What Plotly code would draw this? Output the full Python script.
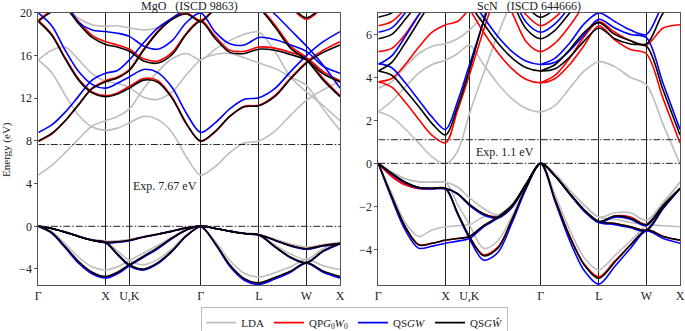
import plotly.graph_objects as go

N = None
# k-path (2pi/a units): G-X-U|K-G-L-W-X
kpath = [0, 0.2, 0.4, 0.6, 0.8, 1.0, 1.177, 1.354, 1.566, 1.778, 1.990, 2.202,
         2.414, 2.631, 2.847, 3.064, 3.280, 3.516, 3.751, 3.987, 4.237, 4.487]
sym_pos = [0, 1.0, 1.354, 2.414, 3.280, 3.987, 4.487]
sym_lab = ["Γ", "X", "U,K", "Γ", "L", "W", "X"]

methods = ["LDA", "QPG0W0", "QSGW", "QSGWh"]
method_labels = ["LDA", "QP<i>G</i><sub>0</sub><i>W</i><sub>0</sub>", "QS<i>GW</i>", "QS<i>GŴ</i>"]
method_colors = ["#bdbdbd", "#ff0000", "#0000ff", "#000000"]

# ---------------- MgO ----------------
mgo_exp_gap = 7.67
mgo_lda = [
    [0, -0.5, -1.65, -2.9, -3.8, -4.1, -3.8, -3.2, -2.5, -1.8, -1.0, -0.3, 0, -1.4, -3.2, -4.4, -4.75, -4.35, -3.8, -3.1, -3.7, -4.05],
    [0, -0.2, -0.5, -0.9, -1.25, -1.4, -2.3, -3.2, -3.6, -3.1, -2.1, -0.8, 0, -0.2, -0.45, -0.65, -0.75, -1.2, -1.65, -1.95, -1.7, -1.5],
    [0, -0.2, -0.5, -0.9, -1.25, -1.4, -1.35, -1.25, -0.95, -0.7, -0.42, -0.14, 0, -0.2, -0.45, -0.65, -0.75, -1.75, -2.6, -3.1, -2.1, -1.5],
    [4.8, 5.7, 6.9, 8.2, 9.4, 9.9, 10.3, 11.0, 12.9, 14.5, 15.7, 16.2, 15.6, 16.6, 17.4, 18.0, 18.2, 16.4, 14.0, 12.6, 11.3, 9.9],
    [15.6, 14.4, 12.3, 10.4, 9.3, 9.0, 9.2, 9.7, 10.3, 10.0, 8.8, 6.5, 4.8, 5.6, 6.9, 7.8, 8.0, 8.9, 10.4, 11.8, 12.8, 13.6],
    [15.6, 16.5, 16.8, 15.6, 14.3, 13.6, 13.4, 13.0, 12.1, 11.9, 12.6, 14.2, 15.6, 16.1, 16.2, 15.8, 15.3, 14.8, 14.0, 13.2, 11.0, 9.0],
    [N, N, 20.6, 19.5, 18.9, 18.75, 18.8, 18.6, 18.4, 18.6, 19.4, 20.5, N, N, N, N, N, N, N, N, N, N],
]
mgo_qp = [
    [0, -0.6, -1.95, -3.35, -4.35, -4.75, -4.35, -3.65, -2.85, -2.05, -1.1, -0.35, 0, -1.6, -3.65, -4.95, -5.35, -4.85, -4.25, -3.45, -4.25, -4.75],
    [0, -0.2, -0.55, -0.95, -1.3, -1.5, -2.6, -3.65, -4.05, -3.45, -2.3, -0.9, 0, -0.2, -0.45, -0.68, -0.8, -1.3, -1.8, -2.1, -1.8, -1.6],
    [0, -0.2, -0.55, -0.95, -1.3, -1.5, -1.45, -1.3, -1.0, -0.75, -0.45, -0.15, 0, -0.2, -0.45, -0.68, -0.8, -1.9, -2.9, -3.45, -2.3, -1.6],
    [7.95, 8.65, 9.9, 11.45, 12.95, 13.65, 14.0, 14.7, 16.6, 18.3, 19.5, 20.0, 19.3, 20.4, 20.7, 20.7, 20.5, 18.9, 16.9, 15.8, 13.85, 12.25],
    [19.3, 18.0, 15.8, 13.8, 12.6, 12.25, 12.5, 13.1, 13.85, 13.65, 12.1, 9.65, 7.95, 8.85, 10.3, 11.25, 11.35, 12.25, 13.9, 15.4, 16.5, 17.3],
    [19.3, 20.2, 20.5, 19.2, 17.9, 17.3, 17.0, 16.6, 15.7, 15.5, 16.3, 18.1, 19.3, 17.8, 16.5, 16.4, 16.8, 16.7, 16.3, 15.8, 14.5, 13.65],
    [N, N, N, N, N, N, N, N, N, N, N, N, N, N, N, N, N, 21.4, 20.5, 19.4, 20.5, 21.4],
]
mgo_qsgw = [
    [0, -0.65, -2.0, -3.45, -4.45, -4.85, -4.45, -3.7, -2.9, -2.1, -1.15, -0.35, 0, -1.65, -3.75, -5.05, -5.45, -4.95, -4.3, -3.45, -4.3, -4.85],
    [0, -0.2, -0.55, -0.95, -1.3, -1.55, -2.65, -3.7, -4.1, -3.5, -2.35, -0.9, 0, -0.2, -0.45, -0.68, -0.82, -1.3, -1.85, -2.15, -1.85, -1.65],
    [0, -0.2, -0.55, -0.95, -1.3, -1.55, -1.5, -1.35, -1.0, -0.75, -0.45, -0.15, 0, -0.2, -0.45, -0.68, -0.82, -1.9, -2.95, -3.45, -2.35, -1.65],
    [8.8, 9.5, 10.7, 12.2, 13.7, 14.35, 14.6, 15.6, 17.2, 18.6, 19.5, 20.3, 20.0, 21.0, 21.5, 21.6, 21.2, 19.9, 18.4, 16.9, 15.1, 12.95],
    [20.0, 18.8, 16.5, 14.5, 13.3, 12.95, 13.4, 14.0, 14.7, 14.4, 13.0, 10.6, 8.8, 9.7, 11.0, 11.9, 12.05, 12.9, 14.5, 16.0, 17.3, 18.25],
    [20.0, 20.8, 20.8, 19.1, 18.4, 18.25, 18.1, 17.8, 16.9, 16.6, 17.4, 19.1, 20.0, 18.2, 17.1, 17.0, 17.7, 17.5, 17.0, 16.4, 15.0, 14.35],
]
mgo_qsgwh = [
    [0, -0.6, -1.9, -3.3, -4.3, -4.7, -4.3, -3.6, -2.8, -2.0, -1.1, -0.35, 0, -1.6, -3.6, -4.9, -5.3, -4.8, -4.2, -3.4, -4.2, -4.7],
    [0, -0.2, -0.55, -0.95, -1.3, -1.5, -2.6, -3.6, -4.0, -3.4, -2.3, -0.9, 0, -0.2, -0.45, -0.68, -0.8, -1.3, -1.8, -2.1, -1.8, -1.6],
    [0, -0.2, -0.55, -0.95, -1.3, -1.5, -1.45, -1.3, -1.0, -0.75, -0.45, -0.15, 0, -0.2, -0.45, -0.68, -0.8, -1.9, -2.9, -3.4, -2.3, -1.6],
    [8.0, 8.7, 9.9, 11.4, 12.9, 13.55, 13.9, 14.6, 16.5, 18.2, 19.4, 19.9, 19.2, 20.3, 20.6, 20.6, 20.4, 18.7, 16.7, 15.6, 13.7, 12.15],
    [19.2, 17.9, 15.7, 13.7, 12.5, 12.15, 12.4, 12.95, 13.7, 13.5, 12.0, 9.6, 8.0, 8.9, 10.3, 11.2, 11.3, 12.15, 13.8, 15.3, 16.3, 17.0],
    [19.2, 20.1, 20.4, 19.0, 17.7, 17.05, 16.8, 16.4, 15.5, 15.3, 16.1, 18.0, 19.2, 17.6, 16.3, 16.2, 16.6, 16.5, 16.1, 15.6, 14.3, 13.55],
    [N, N, N, N, N, N, N, N, N, N, N, N, N, N, N, N, N, 21.5, 20.6, 19.55, 20.6, 21.5],
]

# ---------------- ScN ----------------
scn_exp_gap = 1.1
scn_lda = [
    [0, -0.4, -0.72, -0.86, -0.88, -0.88, -1.1, -1.6, -2.1, -2.4, -1.95, -0.95, 0, -0.5, -1.25, -1.95, -2.5, -2.3, -2.3, -2.65, -1.8, -0.88],
    [0, -0.4, -0.72, -0.86, -0.88, -0.88, -1.9, -2.85, -3.95, -3.6, -2.45, -1.0, 0, -0.5, -1.25, -1.95, -2.5, -2.6, -2.75, -2.85, -2.9, -2.95],
    [0, -1.4, -2.75, -3.4, -3.1, -2.95, -2.9, -2.85, -2.5, -2.4, -1.9, -0.95, 0, -1.5, -3.1, -4.4, -4.95, -4.3, -3.6, -2.85, -1.9, -0.88],
    [2.4, 2.15, 1.6, 0.95, 0.3, -0.03, 0.55, 2.3, 4.2, 6.0, 7.6, N, N, N, N, N, N, N, N, N, N, N],
    [2.4, 2.9, 3.55, 4.2, 4.6, 4.8, 5.1, 5.5, 4.6, 3.7, 3.0, 2.55, 2.4, 2.7, 3.5, 4.3, 4.73, 4.5, 4.0, 3.65, 1.8, -0.03],
    [3.5, 3.8, 4.5, 5.1, 5.45, 5.57, 5.8, 6.2, 6.9, 7.5, N, N, N, N, N, N, N, N, N, N, N, N],
]
scn_qp = [
    [0, -0.6, -1.0, -1.17, -1.18, -1.18, -1.42, -1.92, -2.35, -2.5, -2.0, -0.95, 0, -0.6, -1.42, -2.2, -2.72, -2.45, -2.5, -2.85, -1.95, -1.18],
    [0, -0.6, -1.0, -1.17, -1.18, -1.18, -2.3, -3.4, -4.25, -3.9, -2.6, -1.1, 0, -0.6, -1.42, -2.2, -2.72, -2.8, -2.95, -3.1, -2.05, -1.18],
    [0, -1.55, -2.95, -3.78, -3.72, -3.58, -3.5, -3.4, -2.9, -2.5, -1.95, -0.95, 0, -1.7, -3.38, -4.7, -5.28, -4.55, -3.8, -3.1, -3.4, -3.58],
    [3.8, 3.55, 2.85, 2.05, 1.3, 0.95, 2.45, 4.1, 6.2, 8.2, N, N, N, N, N, N, N, N, N, N, N, N],
    [N, N, N, N, N, N, N, 7.2, 6.1, 5.15, 4.4, 3.9, 3.75, 3.95, 4.6, 5.5, 6.4, 5.75, 5.3, 5.1, 3.0, 0.95],
    [3.8, 3.95, 4.6, 5.4, 6.1, 6.45, 6.6, 7.2, N, N, N, N, 3.75, 4.1, 4.9, 5.9, 6.6, 6.1, 5.7, 5.5, 6.3, 6.45],
    [5.2, 5.35, 6.0, 6.9, 7.6, N, N, N, N, 8.2, 7.0, 5.65, 5.2, 5.6, 6.4, 7.4, N, N, N, N, N, N],
    [6.4, 6.6, 7.2, N, N, N, N, N, N, N, 7.8, 6.9, 6.4, 6.8, 7.5, N, N, N, N, N, N, N],
]
scn_qsgw = [
    [0, -0.5, -0.9, -1.14, -1.18, -1.18, -1.42, -1.95, -2.4, -2.55, -2.05, -0.97, 0, -0.6, -1.42, -2.22, -2.75, -2.5, -2.6, -2.9, -1.97, -1.18],
    [0, -0.5, -0.9, -1.14, -1.18, -1.18, -2.35, -3.5, -4.5, -4.15, -2.75, -1.15, 0, -0.6, -1.42, -2.22, -2.75, -2.85, -3.0, -3.15, -2.1, -1.18],
    [0, -1.65, -3.1, -3.95, -3.85, -3.72, -3.62, -3.5, -2.95, -2.55, -2.0, -0.97, 0, -1.8, -3.6, -5.0, -5.62, -4.8, -3.95, -3.15, -3.5, -3.72],
    [4.65, 4.45, 3.75, 2.95, 2.15, 1.58, 2.87, 4.57, 6.6, 8.6, N, N, N, N, N, N, N, N, N, N, N, N],
    [N, N, N, N, N, N, N, 7.7, 6.8, 5.9, 5.2, 4.75, 4.6, 4.7, 5.25, 6.0, 6.7, 6.3, 6.0, 5.85, 3.7, 1.58],
    [4.6, 5.0, 5.9, 6.9, 7.9, N, N, N, N, N, N, N, 4.6, 4.9, 5.6, 6.5, 7.0, 6.6, 6.2, 6.0, 7.4, 8.2],
    [6.1, 6.3, 7.0, 7.8, N, N, N, N, N, N, 7.9, 6.55, 6.1, 6.5, 7.3, N, N, N, N, N, N, N],
]
scn_qsgwh = [
    [0, -0.47, -0.88, -1.12, -1.16, -1.16, -1.4, -1.9, -2.35, -2.5, -2.0, -0.95, 0, -0.59, -1.4, -2.17, -2.7, -2.45, -2.55, -2.85, -1.95, -1.16],
    [0, -0.47, -0.88, -1.12, -1.16, -1.16, -2.3, -3.4, -4.3, -3.95, -2.6, -1.1, 0, -0.59, -1.4, -2.17, -2.7, -2.8, -2.95, -3.1, -2.05, -1.16],
    [0, -1.55, -2.95, -3.8, -3.72, -3.57, -3.5, -3.4, -2.9, -2.5, -1.95, -0.95, 0, -1.71, -3.41, -4.73, -5.35, -4.6, -3.8, -3.1, -3.4, -3.57],
    [4.3, 4.1, 3.4, 2.65, 1.85, 1.32, 2.63, 4.34, 6.65, 8.6, N, N, N, N, N, N, N, N, N, N, N, N],
    [N, N, N, N, N, N, N, 7.4, 6.5, 5.6, 4.9, 4.45, 4.3, 4.4, 4.95, 5.7, 6.3, 5.8, 5.55, 5.45, 3.4, 1.32],
    [4.3, 4.7, 5.6, 6.6, 7.6, N, N, N, N, N, N, N, 4.3, 4.6, 5.3, 6.1, 6.55, 6.0, 5.7, 5.55, 7.0, 7.8],
    [5.8, 6.0, 6.7, 7.5, N, N, N, N, N, N, 7.6, 6.25, 5.8, 6.2, 7.0, 7.8, N, N, N, N, N, N],
    [6.8, 7.0, 7.6, N, N, N, N, N, N, N, N, 7.3, 6.8, 7.2, 7.9, N, N, N, N, N, N, N],
]

materials = [
    ("MgO", [mgo_lda, mgo_qp, mgo_qsgw, mgo_qsgwh], mgo_exp_gap, "x", "y", [-5.5, 20.0], [-4, 0, 4, 8, 12, 16, 20]),
    ("ScN", [scn_lda, scn_qp, scn_qsgw, scn_qsgwh], scn_exp_gap, "x2", "y2", [-5.66, 7.0], [-4, -2, 0, 2, 4, 6]),
]


def band_xy(bands):
    xs, ys = [], []
    for b in bands:
        assert len(b) == len(kpath), (len(b), b)
        xs += kpath + [None]
        ys += list(b) + [None]
    return xs, ys


fig = go.Figure()
for mi, (mname, sets, gap, xa, ya, yr, yt) in enumerate(materials):
    for j, bands in enumerate(sets):
        xs, ys = band_xy(bands)
        fig.add_trace(go.Scatter(
            x=xs, y=ys, mode="lines", xaxis=xa, yaxis=ya,
            line=dict(color=method_colors[j], width=1.6, shape="spline", smoothing=0.9),
            name=method_labels[j], legendgroup=methods[j], showlegend=(mi == 0),
            hoverinfo="skip", connectgaps=False))
    for lvl in [0.0, gap]:
        fig.add_trace(go.Scatter(
            x=[kpath[0], kpath[-1]], y=[lvl, lvl], mode="lines", xaxis=xa, yaxis=ya,
            line=dict(color="#222222", width=1, dash="7px,2px,1.5px,2px"),
            showlegend=False, hoverinfo="skip"))

FONT = "Liberation Serif"
xdom = [[0.0559, 0.4964], [0.5523, 0.9927]]
ydom = [0.139, 0.961]
axis_common = dict(showline=True, mirror=True, linecolor="#555555", linewidth=1,
                   zeroline=False, tickfont=dict(family=FONT, size=12, color="#222"))
for i, (mname, sets, gap, xa, ya, yr, yt) in enumerate(materials):
    xkey = "xaxis" if i == 0 else "xaxis2"
    ykey = "yaxis" if i == 0 else "yaxis2"
    fig.update_layout(**{
        xkey: dict(domain=xdom[i], range=[kpath[0], kpath[-1]], anchor=ya,
                   tickmode="array", tickvals=sym_pos, ticktext=sym_lab,
                   showgrid=True, gridcolor="#222222", gridwidth=1, ticks="",
                   ticklabeloverflow="allow", **axis_common),
        ykey: dict(domain=ydom, range=yr, anchor=xa, tickmode="array", tickvals=yt,
                   showgrid=False, ticks="outside", ticklen=3, tickcolor="#555",
                   **axis_common),
    })

annotations = [
    dict(text="MgO\u00a0\u00a0\u00a0(ISCD 9863)", xref="paper", yref="paper",
         x=sum(xdom[0]) / 2, y=ydom[1], xanchor="center", yanchor="bottom", yshift=-2,
         showarrow=False, font=dict(family=FONT, size=12, color="#222")),
    dict(text="ScN\u00a0\u00a0\u00a0(ISCD 644666)", xref="paper", yref="paper",
         x=sum(xdom[1]) / 2, y=ydom[1], xanchor="center", yanchor="bottom", yshift=-2,
         showarrow=False, font=dict(family=FONT, size=12, color="#222")),
    dict(text="Exp. 7.67 eV", xref="x", yref="y", x=1.884, y=3.82, showarrow=False,
         font=dict(family=FONT, size=12, color="#222")),
    dict(text="Exp. 1.1 eV", xref="x2", yref="y2", x=1.884, y=0.53, showarrow=False,
         font=dict(family=FONT, size=12, color="#222")),
    dict(text="Energy (eV)", xref="paper", yref="paper", x=7 / 685, y=0.547,
         textangle=-90, showarrow=False, xanchor="center", yanchor="middle",
         font=dict(family=FONT, size=11, color="#222")),
]

fig.update_layout(
    width=685, height=331, margin=dict(l=0, r=0, t=0, b=0, autoexpand=False),
    paper_bgcolor="white", plot_bgcolor="white",
    annotations=annotations,
    showlegend=True,
    legend=dict(orientation="h", x=0.518, xanchor="center", y=0.072, yanchor="top",
                bordercolor="#bbbbbb", borderwidth=1, bgcolor="white",
                font=dict(family=FONT, size=11, color="#222"),
                itemwidth=30, tracegroupgap=0),
    font=dict(family=FONT),
)

fig.write_html("out.html", config={"displayModeBar": False, "staticPlot": True},
               post_script="document.body.style.margin='0px';document.body.style.padding='0px';")
